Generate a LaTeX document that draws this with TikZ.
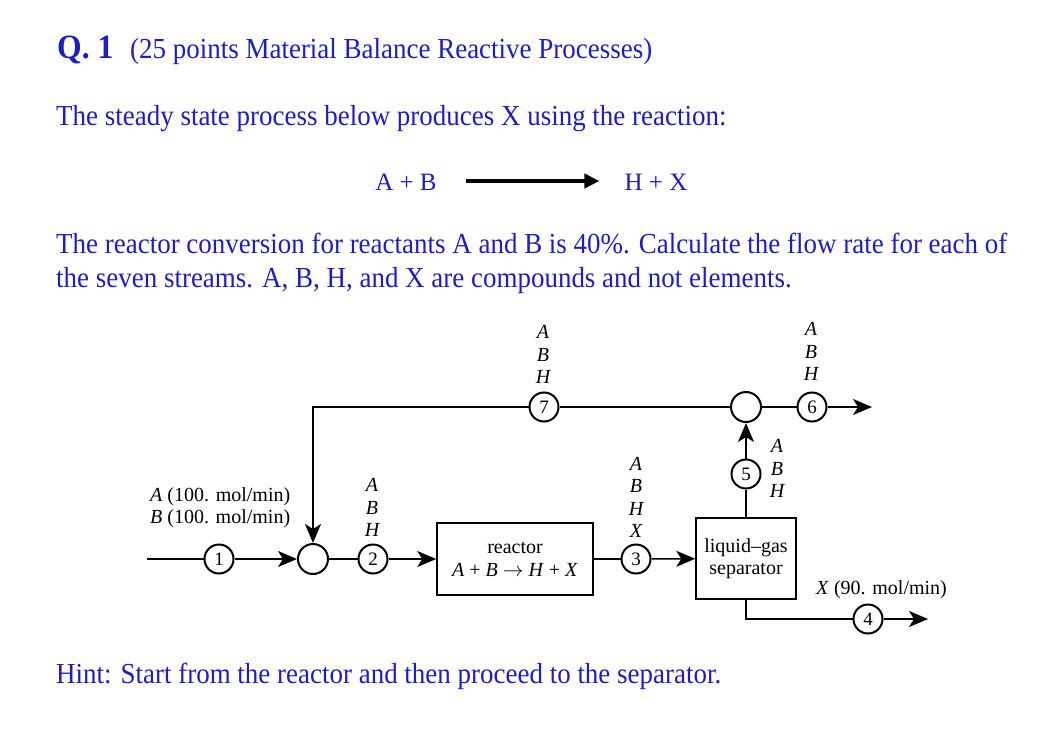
\documentclass[tikz,border=0pt]{standalone}
\usepackage{fontspec}
\setmainfont{Liberation Serif}
\newfontfamily\bodyfont[FakeStretch=0.93]{Liberation Serif}
\usetikzlibrary{arrows.meta}
\definecolor{qblue}{RGB}{30,30,190}
\tikzset{
  txt/.style={anchor=base west, inner sep=0pt, text=qblue, font=\bodyfont\fontsize{29}{34}\selectfont},
  stream/.style={circle, draw, line width=2pt, minimum size=29pt, inner sep=0pt, font=\fontsize{19}{19}\selectfont},
  mixer/.style={circle, draw, line width=2pt, minimum size=30pt, inner sep=0pt},
  unit/.style={draw, line width=1.5pt, inner sep=0pt, align=center, font=\fontsize{20}{22}\selectfont},
  comp/.style={inner sep=0pt, align=center, font=\fontsize{20}{22.5}\selectfont\itshape},
  flow/.style={line width=1.5pt},
  arr/.style={line width=1.5pt, -{Stealth[length=19pt, width=16pt, inset=5pt]}}
}
\begin{document}
\begin{tikzpicture}[x=1pt, y=-1pt]
\useasboundingbox[fill=white] (0,0) rectangle (1048,730);
% header text
\node[txt, font=\bodyfont\bfseries\fontsize{34}{40}\selectfont] (q) at (57,59) {Q. 1};
\node[txt] (title) at (130,59) {(25 points Material Balance Reactive Processes)};
\node[txt] (l1) at (56,126) {The steady state process below produces X using the reaction:};
\node[txt, font=\fontsize{25}{30}\selectfont, anchor=base] (lhs) at (406,190) {A + B};
\node[txt, font=\fontsize{25}{30}\selectfont, anchor=base] (rhs) at (656,190) {H + X};
\draw[line width=4.5pt, -{Triangle[length=15pt, width=14pt]}, shorten <=29pt, shorten >=25pt] (lhs.east |- 0,181) coordinate (ra) -- (rhs.west |- 0,181) coordinate (rb);
\node[txt] (l2) at (56,253) {The reactor conversion for reactants A and B is 40\%. Calculate the flow rate for each of};
\node[txt] (l3) at (56,287) {the seven streams. A, B, H, and X are compounds and not elements.};
\node[txt] (hint) at (56,683) {Hint: Start from the reactor and then proceed to the separator.};
% flowsheet
\coordinate (in1) at (147,559);
\node[stream] (s1) at (219,559) {1};
\node[mixer] (mx) at (313,559) {};
\node[stream] (s2) at (373,559) {2};
\node[unit, minimum width=156pt, minimum height=72pt] (reac) at (515,559) {reactor\\[1pt]\textit{A} + \textit{B} $\rightarrow$ \textit{H} + \textit{X}};
\node[stream] (s3) at (636,559) {3};
\node[unit, minimum width=100pt, minimum height=81pt] (sep) at (746,558.5) {liquid--gas\\separator};
\node[stream] (s5) at (746,474) {5};
\node[mixer] (sp) at (746,407) {};
\node[stream] (s6) at (812,407) {6};
\coordinate (out6) at (872,407);
\node[stream] (s7) at (544,407) {7};
\node[stream] (s4) at (868,619) {4};
\coordinate (out4) at (928,619);
\draw[flow] (in1) -- (s1);
\draw[arr] (s1) -- (mx);
\draw[arr] (s7.west) -| (mx.north);
\draw[flow] (mx) -- (s2);
\draw[arr] (s2) -- (reac);
\draw[flow] (reac) -- (s3);
\draw[arr] (s3) -- (sep);
\draw[flow] (sep) -- (s5);
\draw[arr] (s5) -- (sp);
\draw[flow] (sp) -- (s7);
\draw[flow] (sp) -- (s6);
\draw[arr] (s6) -- (out6);
\draw[flow] (sep.south) |- (s4);
\draw[arr] (s4) -- (out4);
% stream labels
\node[comp] (c7) at (543,354.5) {A\\B\\H};
\node[comp] (c6) at (811,351.5) {A\\B\\H};
\node[comp] (c2) at (372,507.5) {A\\B\\H};
\node[comp] (c3) at (636,497.5) {A\\B\\H\\X};
\node[comp] (c5) at (777,468.5) {A\\B\\H};
\node[inner sep=0pt, anchor=west, align=left, font=\fontsize{20}{22}\selectfont] (feed) at (150,508) {\textit{A} (100. mol/min)\\\textit{B} (100. mol/min)};
\node[inner sep=0pt, anchor=west, font=\fontsize{20}{22}\selectfont] (prod) at (816,590) {\textit{X} (90. mol/min)};
\end{tikzpicture}
\end{document}
